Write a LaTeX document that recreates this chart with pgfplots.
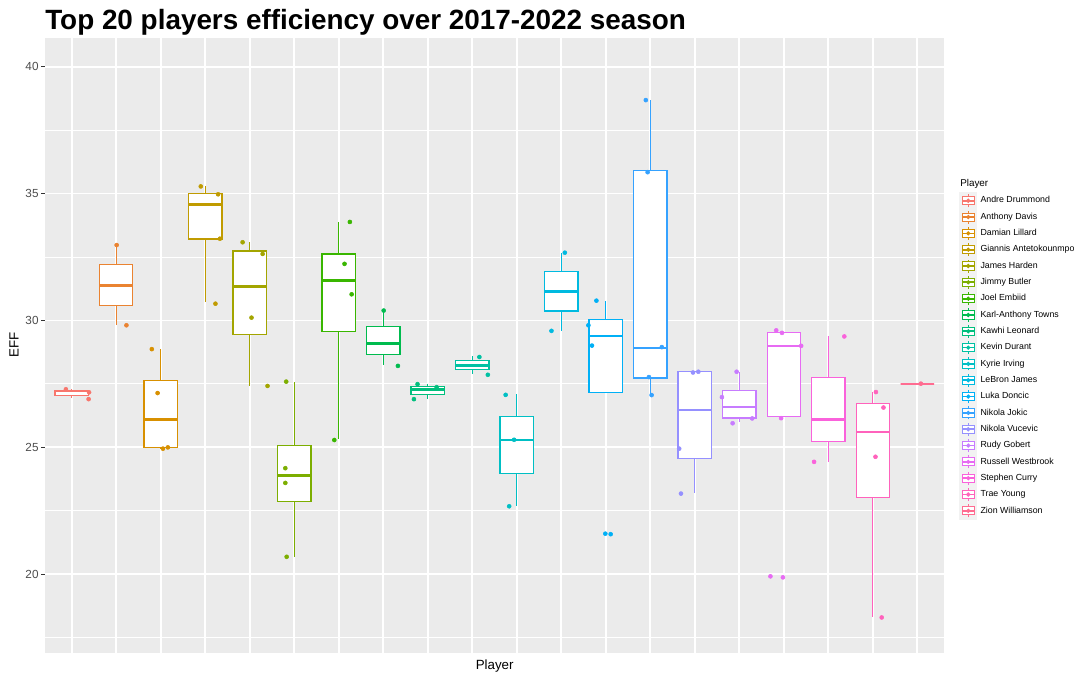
\documentclass[border=0pt]{standalone}
\usepackage{fontspec}
\setmainfont{Liberation Sans}
\usepackage{pgfplots}
\pgfplotsset{compat=1.18}
\usepgfplotslibrary{statistics}

% ggplot hue palette, 20 levels
\definecolor{p1}{HTML}{F8766D}
\definecolor{p2}{HTML}{EA8331}
\definecolor{p3}{HTML}{D89000}
\definecolor{p4}{HTML}{C09B00}
\definecolor{p5}{HTML}{A3A500}
\definecolor{p6}{HTML}{7CAE00}
\definecolor{p7}{HTML}{39B600}
\definecolor{p8}{HTML}{00BB4E}
\definecolor{p9}{HTML}{00BF7D}
\definecolor{p10}{HTML}{00C1A3}
\definecolor{p11}{HTML}{00BFC4}
\definecolor{p12}{HTML}{00BAE0}
\definecolor{p13}{HTML}{00B0F6}
\definecolor{p14}{HTML}{35A2FF}
\definecolor{p15}{HTML}{9590FF}
\definecolor{p16}{HTML}{C77CFF}
\definecolor{p17}{HTML}{E76BF3}
\definecolor{p18}{HTML}{FA62DB}
\definecolor{p19}{HTML}{FF62BC}
\definecolor{p20}{HTML}{FF6C91}
\definecolor{panel}{HTML}{EBEBEB}
\definecolor{keybg}{HTML}{F2F2F2}
\definecolor{ticktext}{HTML}{4D4D4D}
\definecolor{tickline}{HTML}{333333}

\pgfplotsset{
  bx/.style={color=#1, line width=0.9pt, solid, mark=none,
    legend image code/.code={
      \fill[keybg] (0pt,-6.11pt) rectangle (12.5pt,6.11pt);
      \draw[#1, line width=0.7pt] (6.25pt,-4.89pt) -- (6.25pt,4.89pt);
      \draw[#1, line width=0.7pt, fill=white] (1.56pt,-3.06pt) rectangle (10.94pt,3.06pt);
      \draw[#1, line width=1.3pt] (1.56pt,0pt) -- (10.94pt,0pt);
      \fill[#1] (6.25pt,0pt) circle (1.1pt);
    }},
  pts/.style={only marks, mark=*, mark size=1.5pt, color=#1, forget plot},
}

\begin{document}
\begin{tikzpicture}
\useasboundingbox (0,0) rectangle (816pt,514.5pt);
\begin{axis}[
  at={(33.75pt,24.75pt)}, anchor=south west,
  scale only axis, width=674.25pt, height=461.5pt,
  xmin=0.4, xmax=20.6, ymin=16.90, ymax=41.14,
  axis line style={draw=none},
  axis background/.style={fill=panel},
  xtick={1,...,20}, xticklabels={}, xtick style={draw=none},
  ytick={20,25,30,35,40}, minor ytick={17.5,22.5,27.5,32.5,37.5},
  ytick pos=left,
  ytick style={draw=tickline, line width=0.8pt},
  tick align=outside, major tick length=2.75pt, minor tick length=0pt,
  ymajorgrids, yminorgrids, xmajorgrids,
  major grid style={white, line width=1.4pt},
  minor grid style={white, line width=0.7pt},
  yticklabel style={font=\fontsize{8.8}{10}\selectfont, text=ticktext, inner sep=0pt, anchor=east, xshift=-1.9pt},
  /pgf/number format/assume math mode=true,
  boxplot/draw direction=y,
  boxplot/box extend=0.75,
  boxplot/whisker extend=0,
  boxplot/every median/.style={line width=2pt},
  boxplot/every whisker/.style={line width=0.9pt},
  boxplot/every box/.style={draw, fill=white},
  legend cell align=left,
  legend style={at={(1.01706,0.74919)}, anchor=north west, draw=none, fill=none,
    inner sep=0pt, outer sep=0pt, row sep=-0.88pt, column sep=2.5pt,
    font=\fontsize{6.6}{7.5}\selectfont,
    nodes={inner sep=0pt, minimum height=12.22pt}},
]
% boxes: lower whisker, q1, median, q3, upper whisker
\addplot[boxplot prepared={draw position=1, lower whisker=26.93, lower quartile=27.04, median=27.22, upper quartile=27.25, upper whisker=27.29}, bx=p1] coordinates {};
\addlegendentry{Andre Drummond}
\addplot[boxplot prepared={draw position=2, lower whisker=29.81, lower quartile=30.60, median=31.39, upper quartile=32.20, upper whisker=32.97}, bx=p2] coordinates {};
\addlegendentry{Anthony Davis}
\addplot[boxplot prepared={draw position=3, lower whisker=24.95, lower quartile=25.00, median=26.11, upper quartile=27.63, upper whisker=28.88}, bx=p3] coordinates {};
\addlegendentry{Damian Lillard}
\addplot[boxplot prepared={draw position=4, lower whisker=30.72, lower quartile=33.21, median=34.58, upper quartile=35.01, upper whisker=35.30}, bx=p4] coordinates {};
\addlegendentry{Giannis Antetokounmpo}
\addplot[boxplot prepared={draw position=5, lower whisker=27.42, lower quartile=29.44, median=31.35, upper quartile=32.74, upper whisker=33.08}, bx=p5] coordinates {};
\addlegendentry{James Harden}
\addplot[boxplot prepared={draw position=6, lower whisker=20.69, lower quartile=22.88, median=23.90, upper quartile=25.06, upper whisker=27.59}, bx=p6] coordinates {};
\addlegendentry{Jimmy Butler}
\addplot[boxplot prepared={draw position=7, lower whisker=25.32, lower quartile=29.57, median=31.58, upper quartile=32.62, upper whisker=33.88}, bx=p7] coordinates {};
\addlegendentry{Joel Embiid}
\addplot[boxplot prepared={draw position=8, lower whisker=28.23, lower quartile=28.67, median=29.10, upper quartile=29.77, upper whisker=30.39}, bx=p8] coordinates {};
\addlegendentry{Karl-Anthony Towns}
\addplot[boxplot prepared={draw position=9, lower whisker=26.92, lower quartile=27.09, median=27.29, upper quartile=27.41, upper whisker=27.49}, bx=p9] coordinates {};
\addlegendentry{Kawhi Leonard}
\addplot[boxplot prepared={draw position=10, lower whisker=27.90, lower quartile=28.06, median=28.23, upper quartile=28.43, upper whisker=28.60}, bx=p10] coordinates {};
\addlegendentry{Kevin Durant}
\addplot[boxplot prepared={draw position=11, lower whisker=22.70, lower quartile=23.98, median=25.29, upper quartile=26.21, upper whisker=27.09}, bx=p11] coordinates {};
\addlegendentry{Kyrie Irving}
\addplot[boxplot prepared={draw position=12, lower whisker=29.60, lower quartile=30.37, median=31.15, upper quartile=31.94, upper whisker=32.67}, bx=p12] coordinates {};
\addlegendentry{LeBron James}
\addplot[boxplot prepared={draw position=13, lower whisker=27.16, lower quartile=27.16, median=29.39, upper quartile=30.05, upper whisker=30.78}, bx=p13] coordinates {};
\addlegendentry{Luka Doncic}
\addplot[boxplot prepared={draw position=14, lower whisker=27.12, lower quartile=27.73, median=28.91, upper quartile=35.90, upper whisker=38.67}, bx=p14] coordinates {};
\addlegendentry{Nikola Jokic}
\addplot[boxplot prepared={draw position=15, lower whisker=23.21, lower quartile=24.55, median=26.47, upper quartile=27.98, upper whisker=27.98}, bx=p15] coordinates {};
\addlegendentry{Nikola Vucevic}
\addplot[boxplot prepared={draw position=16, lower whisker=26.01, lower quartile=26.16, median=26.59, upper quartile=27.23, upper whisker=27.98}, bx=p16] coordinates {};
\addlegendentry{Rudy Gobert}
\addplot[boxplot prepared={draw position=17, lower whisker=26.22, lower quartile=26.22, median=29.00, upper quartile=29.51, upper whisker=29.51}, bx=p17] coordinates {};
\addlegendentry{Russell Westbrook}
\addplot[boxplot prepared={draw position=18, lower whisker=24.42, lower quartile=25.24, median=26.09, upper quartile=27.75, upper whisker=29.38}, bx=p18] coordinates {};
\addlegendentry{Stephen Curry}
\addplot[boxplot prepared={draw position=19, lower whisker=18.33, lower quartile=23.03, median=25.60, upper quartile=26.74, upper whisker=27.19}, bx=p19] coordinates {};
\addlegendentry{Trae Young}
\addplot[boxplot prepared={draw position=20, lower whisker=27.50, lower quartile=27.50, median=27.50, upper quartile=27.50, upper whisker=27.50}, bx=p20] coordinates {};
\addlegendentry{Zion Williamson}

% jittered season values
\addplot[pts=p1] coordinates {(0.87,27.29) (1.39,27.17) (1.38,26.90)};
\addplot[pts=p2] coordinates {(2.01,32.97) (2.23,29.81)};
\addplot[pts=p3] coordinates {(2.80,28.87) (2.93,27.14) (3.05,24.95) (3.16,25.00)};
\addplot[pts=p4] coordinates {(3.90,35.28) (4.29,34.97) (4.33,33.22) (4.23,30.66)};
\addplot[pts=p5] coordinates {(4.84,33.08) (5.29,32.62) (5.04,30.11) (5.40,27.42)};
\addplot[pts=p6] coordinates {(5.82,27.59) (5.80,24.18) (5.80,23.60) (5.83,20.69)};
\addplot[pts=p7] coordinates {(7.25,33.88) (7.13,32.23) (7.29,31.03) (6.90,25.29)};
\addplot[pts=p8] coordinates {(8.01,30.39) (8.33,28.21)};
\addplot[pts=p9] coordinates {(8.77,27.49) (8.69,26.90) (9.20,27.37)};
\addplot[pts=p10] coordinates {(10.16,28.56) (10.35,27.86)};
\addplot[pts=p11] coordinates {(10.75,27.07) (10.83,22.68) (10.94,25.30)};
\addplot[pts=p12] coordinates {(12.08,32.67) (11.78,29.59)};
\addplot[pts=p13] coordinates {(12.79,30.78) (12.61,29.81) (12.69,29.01) (12.99,21.60) (13.11,21.58)};
\addplot[pts=p14] coordinates {(13.90,38.68) (13.94,35.84) (13.97,27.77) (14.03,27.06) (14.26,28.95)};
\addplot[pts=p15] coordinates {(14.96,27.95) (15.08,27.98) (14.65,24.95) (14.69,23.18)};
\addplot[pts=p16] coordinates {(15.94,27.98) (15.61,26.98) (15.85,25.95) (16.29,26.14)};
\addplot[pts=p17] coordinates {(16.83,29.61) (16.96,29.51) (17.39,29.00) (16.94,26.15) (16.70,19.92) (16.98,19.88)};
\addplot[pts=p18] coordinates {(18.36,29.37) (17.68,24.43)};
\addplot[pts=p19] coordinates {(19.07,27.18) (19.24,26.57) (19.06,24.63) (19.20,18.30)};
\addplot[pts=p20] coordinates {(20.08,27.51)};
\end{axis}

\node[anchor=base west, inner sep=0pt, font=\fontsize{20.9}{25}\selectfont\bfseries]
  at (33.75pt,492pt) {Top 20 players efficiency over 2017-2022 season};
\node[anchor=base, inner sep=0pt, font=\fontsize{10}{12}\selectfont] at (371pt,12.5pt) {Player};
\node[rotate=90, anchor=center, inner sep=0pt, font=\fontsize{10}{12}\selectfont] at (10.6pt,255.75pt) {EFF};
\node[anchor=base west, inner sep=0pt, font=\fontsize{7.4}{9}\selectfont] at (720pt,374.25pt) {Player};
\end{tikzpicture}
\end{document}
